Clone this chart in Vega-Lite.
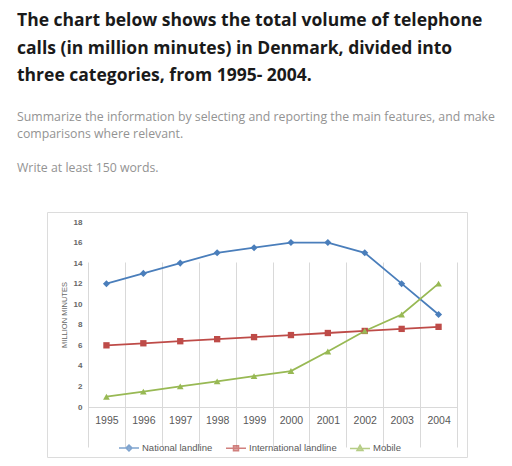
{
  "$schema": "https://vega.github.io/schema/vega-lite/v6.json",
  "width": 420,
  "height": 245,
  "padding": {"left": 17, "top": 12, "right": 0, "bottom": 2},
  "background": "white",
  "title": {
    "text": ["The chart below shows the total volume of telephone", "calls (in million minutes) in Denmark, divided into", "three categories, from 1995- 2004."],
    "subtitle": ["Summarize the information by selecting and reporting the main features, and make", "comparisons where relevant.", "\u200b", "Write at least 150 words."],
    "anchor": "start",
    "frame": "group",
    "dx": -30,
    "font": "Open Sans",
    "fontSize": 17.5,
    "fontWeight": "bold",
    "lineHeight": 27.5,
    "color": "#1a1a1a",
    "subtitleFont": "Open Sans",
    "subtitleFontSize": 12.3,
    "subtitleColor": "#939393",
    "subtitleLineHeight": 17,
    "subtitlePadding": 26,
    "offset": 38
  },
  "data": {
    "values": [
      {"year": "1995", "series": "National landline", "value": 12},
      {"year": "1996", "series": "National landline", "value": 13},
      {"year": "1997", "series": "National landline", "value": 14},
      {"year": "1998", "series": "National landline", "value": 15},
      {"year": "1999", "series": "National landline", "value": 15.5},
      {"year": "2000", "series": "National landline", "value": 16},
      {"year": "2001", "series": "National landline", "value": 16},
      {"year": "2002", "series": "National landline", "value": 15},
      {"year": "2003", "series": "National landline", "value": 12},
      {"year": "2004", "series": "National landline", "value": 9},
      {"year": "1995", "series": "International landline", "value": 6},
      {"year": "1996", "series": "International landline", "value": 6.2},
      {"year": "1997", "series": "International landline", "value": 6.4},
      {"year": "1998", "series": "International landline", "value": 6.6},
      {"year": "1999", "series": "International landline", "value": 6.8},
      {"year": "2000", "series": "International landline", "value": 7},
      {"year": "2001", "series": "International landline", "value": 7.2},
      {"year": "2002", "series": "International landline", "value": 7.4},
      {"year": "2003", "series": "International landline", "value": 7.6},
      {"year": "2004", "series": "International landline", "value": 7.8},
      {"year": "1995", "series": "Mobile", "value": 1},
      {"year": "1996", "series": "Mobile", "value": 1.5},
      {"year": "1997", "series": "Mobile", "value": 2},
      {"year": "1998", "series": "Mobile", "value": 2.5},
      {"year": "1999", "series": "Mobile", "value": 3},
      {"year": "2000", "series": "Mobile", "value": 3.5},
      {"year": "2001", "series": "Mobile", "value": 5.4},
      {"year": "2002", "series": "Mobile", "value": 7.4},
      {"year": "2003", "series": "Mobile", "value": 9},
      {"year": "2004", "series": "Mobile", "value": 12}
    ]
  },
  "encoding": {
    "x": {
      "field": "year",
      "type": "ordinal",
      "scale": {"type": "band", "range": [41, 410], "paddingInner": 0, "paddingOuter": 0},
      "axis": {
        "title": null,
        "offset": -50,
        "labelAngle": 0,
        "grid": true,
        "tickBand": "extent",
        "gridColor": "#d9d9d9",
        "ticks": false,
        "domainColor": "#d9d9d9",
        "labelFont": "Liberation Sans",
        "labelFontSize": 10.5,
        "labelColor": "#595959",
        "labelPadding": 8
      }
    },
    "y": {
      "field": "value",
      "type": "quantitative",
      "scale": {"domain": [0, 18], "range": [195, 10], "nice": false},
      "axis": {
        "title": "MILLION MINUTES",
        "offset": -41,
        "values": [0, 2, 4, 6, 8, 10, 12, 14, 16, 18],
        "grid": false,
        "domain": false,
        "ticks": false,
        "labelFont": "Liberation Sans",
        "labelFontSize": 8,
        "labelFontWeight": "bold",
        "labelColor": "#666666",
        "labelPadding": 6,
        "titleFont": "Liberation Sans",
        "titleFontSize": 7.5,
        "titleFontWeight": "normal",
        "titleColor": "#666666",
        "titlePadding": 5
      }
    }
  },
  "layer": [
    {
      "mark": {"type": "line", "strokeWidth": 1.8},
      "encoding": {
        "stroke": {"field": "series", "type": "nominal", "scale": {"domain": ["National landline", "International landline", "Mobile"], "range": ["#4a7ebb", "#be4b48", "#98b954"]}}
      }
    },
    {
      "transform": [{"filter": "datum.series === 'National landline'"}],
      "mark": {"type": "point", "shape": "diamond", "filled": true, "opacity": 1, "size": 50},
      "encoding": {
        "fill": {"field": "series", "type": "nominal", "scale": {"domain": ["National landline", "International landline", "Mobile"], "range": ["#4a7ebb", "#be4b48", "#98b954"]}}
      }
    },
    {
      "transform": [{"filter": "datum.series === 'International landline'"}],
      "mark": {"type": "point", "shape": "square", "filled": true, "opacity": 1, "size": 40},
      "encoding": {
        "fill": {"field": "series", "type": "nominal", "scale": {"domain": ["National landline", "International landline", "Mobile"], "range": ["#4a7ebb", "#be4b48", "#98b954"]}}
      }
    },
    {
      "transform": [{"filter": "datum.series === 'Mobile'"}],
      "mark": {"type": "point", "shape": "triangle-up", "filled": true, "opacity": 1, "size": 45},
      "encoding": {
        "fill": {"field": "series", "type": "nominal", "scale": {"domain": ["National landline", "International landline", "Mobile"], "range": ["#4a7ebb", "#be4b48", "#98b954"]}}
      }
    },
    {
      "mark": {"type": "point", "filled": true, "size": 0, "strokeWidth": 1.5},
      "encoding": {
        "fill": {
          "field": "series",
          "type": "nominal",
          "legend": {"title": null, "orient": "none", "legendX": 71, "legendY": 225, "direction": "horizontal", "symbolSize": 400, "symbolStrokeWidth": 1.5, "labelFont": "Liberation Sans", "labelFontSize": 9.5, "labelColor": "#595959", "labelOffset": 2, "columnPadding": 10}
        },
        "stroke": {
          "field": "series",
          "type": "nominal",
          "legend": {"title": null, "orient": "none", "legendX": 71, "legendY": 225, "direction": "horizontal", "symbolSize": 400, "symbolStrokeWidth": 1.5, "labelFont": "Liberation Sans", "labelFontSize": 9.5, "labelColor": "#595959", "labelOffset": 2, "columnPadding": 10}
        },
        "shape": {
          "field": "series",
          "type": "nominal",
          "scale": {"domain": ["National landline", "International landline", "Mobile"], "range": ["M-1,0H1M0,-0.3L0.3,0L0,0.3L-0.3,0Z", "M-1,0H1M-0.25,-0.25H0.25V0.25H-0.25Z", "M-1,0H1M0,-0.32L0.3,0.22H-0.3Z"]},
          "legend": {"title": null, "orient": "none", "legendX": 71, "legendY": 225, "direction": "horizontal", "symbolSize": 400, "symbolStrokeWidth": 1.5, "labelFont": "Liberation Sans", "labelFontSize": 9.5, "labelColor": "#595959", "labelOffset": 2, "columnPadding": 10}
        }
      }
    }
  ],
  "config": {
    "view": {"stroke": "#dcdcdc", "strokeWidth": 1}
  }
}
